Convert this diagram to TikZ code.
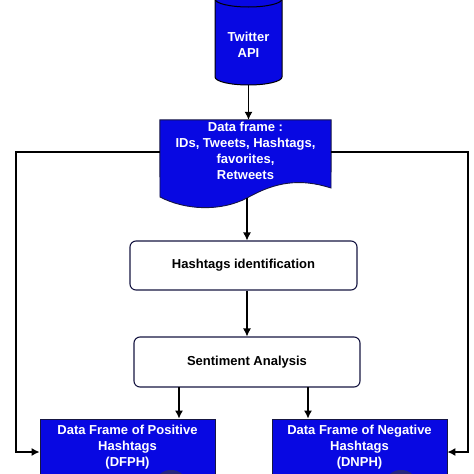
\documentclass[tikz,border=0pt]{standalone}
\usepackage{fontspec}
\setmainfont{Liberation Sans}
\usetikzlibrary{arrows.meta}

\definecolor{dfblue}{RGB}{8,8,226}
\definecolor{navyline}{RGB}{22,22,66}
\definecolor{darkblob}{RGB}{40,40,125}

\tikzset{
  boxfont/.style={font=\bfseries\fontsize{13}{16}\selectfont},
  flowline/.style={line width=1.2pt,-{Latex[length=8pt,width=8pt]}},
  stepbox/.style={boxfont,draw=navyline,line width=1.1pt,rounded corners=6pt,
    fill=white,align=center,inner sep=0pt},
  framebox/.style={boxfont,draw=navyline,line width=0.9pt,fill=dfblue,
    text=white,align=center,inner sep=0pt},
  whitelbl/.style={boxfont,text=white,align=center,inner sep=0pt},
}

\begin{document}
\begin{tikzpicture}[x=1pt,y=1pt,yscale=-1,xscale=1]
\clip (0,0) rectangle (474,474);

%Shape: Can [id:twitter api]
\fill[dfblue] (215,-1) -- (215,77) arc[start angle=180,end angle=0,x radius=33.5,y radius=8] -- (282,-1) -- cycle;
\draw[line width=1pt] (215,-1) -- (215,77) arc[start angle=180,end angle=0,x radius=33.5,y radius=8] -- (282,-1);
\filldraw[fill=dfblue,line width=1pt] (248.5,-1) ellipse[x radius=33.5,y radius=8];
% Text Node
\node[whitelbl] (api) at (248.5,45) {Twitter\\API};
\coordinate (apibot) at (248.5,85);

%Shape: Document [id:data frame]
\node[whitelbl,minimum width=171pt,minimum height=64pt] (df) at (245.5,152) {};
\filldraw[fill=dfblue,draw=navyline,line width=0.9pt] (df.north west) -- (df.north east) -- (331,188)
  .. controls (300,178) and (275,182) .. (247,198)
  .. controls (220,212) and (185,210) .. (160,197) -- cycle;
% Text Node
\node[whitelbl] (dftxt) at (245.5,151) {Data frame :\\IDs, Tweets, Hashtags,\\favorites,\\Retweets};
\coordinate (dfwave) at (247,198);

%Shape: Rounded Rect
\node[stepbox,minimum width=227pt,minimum height=49pt] (hash) at (243.5,265.5) {Hashtags identification};
%Shape: Rounded Rect
\node[stepbox,minimum width=226pt,minimum height=50pt] (sent) at (247,362) {Sentiment Analysis};

%Shape: Rectangle
\node[framebox,minimum width=175pt,minimum height=56pt] (pos) at (127.5,447) {Data Frame of Positive\\Hashtags\\(DFPH)};
%Shape: Rectangle
\node[framebox,minimum width=175pt,minimum height=56pt] (neg) at (359.5,447) {Data Frame of Negative\\Hashtags\\(DNPH)};
% cut-off cans below the frames
\fill[darkblob] (171,480) ellipse[x radius=14,y radius=10];
\fill[darkblob] (401,480) ellipse[x radius=14,y radius=10];

% Connectors
\draw[flowline] (apibot) -- (apibot |- df.north);
\draw[flowline] (dfwave) -- (dfwave |- hash.north);
\draw[flowline] (hash.south -| sent.north) -- (sent.north);
\coordinate (sposl) at (179,387);
\coordinate (snegr) at (308,387);
\draw[flowline] (sposl) -- (sposl |- pos.north);
\draw[flowline] (snegr) -- (snegr |- neg.north);
\coordinate (lbend) at (16,452);
\coordinate (rbend) at (468,452);
\draw[flowline] (df.west) -| (lbend) -- (pos.west |- lbend);
\draw[flowline] (df.east) -| (rbend) -- (neg.east |- rbend);
\end{tikzpicture}
\end{document}
